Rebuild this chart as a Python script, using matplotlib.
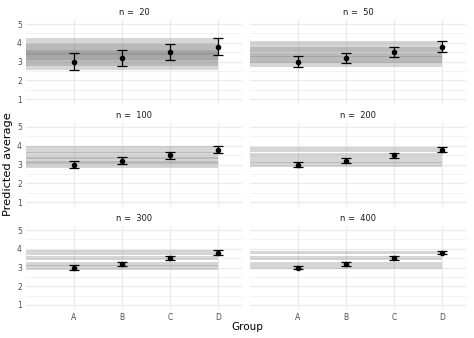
import matplotlib
matplotlib.use("Agg")
import matplotlib.pyplot as plt
import numpy as np

groups = ["A", "B", "C", "D"]
means = [3.0, 3.2, 3.5, 3.8]
sample_sizes = [20, 50, 100, 200, 300, 400]
half_widths = [0.43, 0.27, 0.19, 0.135, 0.11, 0.095]

W, H = 474, 338
fig = plt.figure(figsize=(W / 100, H / 100), dpi=100)

# panel boxes in pixels (left, top, width, height)
lefts = [26, 250]
tops = [20.25, 123.25, 226.25]
pw, ph = 216, 82.5

grid_col = "#ebebeb"
xpos = np.arange(1, len(groups) + 1)

for i, n in enumerate(sample_sizes):
    r, c = divmod(i, 2)
    l, t = lefts[c], tops[r]
    ax = fig.add_axes([l / W, 1 - (t + ph) / H, pw / W, ph / H])
    ax.set_xlim(0, 4.5)
    ax.set_ylim(0.8, 5.2)

    for s in ax.spines.values():
        s.set_visible(False)
    ax.set_yticks([1, 2, 3, 4, 5])
    ax.set_yticks([1.5, 2.5, 3.5, 4.5], minor=True)
    ax.set_xticks(xpos)
    ax.grid(True, which="major", color=grid_col, lw=0.9, zorder=0)
    ax.grid(True, which="minor", axis="y", color=grid_col, lw=0.5, zorder=0)
    ax.set_axisbelow(True)
    ax.tick_params(which="both", length=0, labelsize=5.5, labelcolor="#4d4d4d", pad=3)

    if c == 0:
        ax.set_yticklabels(["1", "2", "3", "4", "5"])
    else:
        ax.set_yticklabels([])
    if r == 2:
        ax.set_xticklabels(groups)
    else:
        ax.set_xticklabels([])

    hw = half_widths[i]
    for m in means:
        ax.fill_between([0, 4], m - hw, m + hw, color="#7a7a7a", alpha=0.3, lw=0, zorder=1)

    ax.errorbar(xpos, means, yerr=hw, fmt="o", color="black", ms=3.0,
                elinewidth=0.9, capsize=3.4, capthick=0.9, zorder=3)

    ax.set_title(f"n =  {n}", fontsize=6, color="#1a1a1a", pad=4)

fig.text(247 / W, 1 - 327 / H, "Group", ha="center", va="center", fontsize=7.5, color="black")
fig.text(8 / W, 1 - 164 / H, "Predicted average", ha="center", va="center",
         rotation=90, fontsize=8.2, color="black")

fig.savefig("out.png", dpi=100, facecolor="white")
